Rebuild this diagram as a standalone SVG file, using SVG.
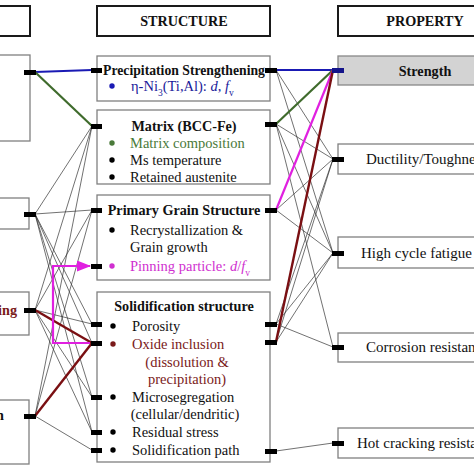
<svg xmlns="http://www.w3.org/2000/svg" width="474" height="474" viewBox="0 0 474 474">
<defs>
<style>
text{font-family:"Liberation Serif","Times New Roman",serif;font-size:14.5px;fill:#111}
.b{font-weight:bold;font-size:14.2px}
.p{font-size:15px}
.hd{fill:#fff;stroke:#1a1a1a;stroke-width:2}
.bx{fill:#fff;stroke:#808080;stroke-width:1.3}
.mk{fill:#000}
.t{stroke:#333;stroke-width:0.7;fill:none}
.blue{stroke:#1a1ab4;stroke-width:2.2;fill:none}
.green{stroke:#3f6b2c;stroke-width:2.2;fill:none}
.mag{stroke:#e020e0;stroke-width:2.2;fill:none}
.red{stroke:#7a0f12;stroke-width:2.4;fill:none}
</style>
<marker id="ah" markerWidth="14" markerHeight="11" refX="13" refY="5.5" orient="auto" markerUnits="userSpaceOnUse" viewBox="0 0 14 11">
<path d="M0,0 L14,5.5 L0,11 Z" fill="#e020e0"/>
</marker>
</defs>
<rect width="474" height="474" fill="#fff"/>

<g id="left-header"><rect class="hd" x="-10" y="6" width="40" height="30"/></g>
<g id="left-1"><rect class="bx" x="-10" y="55" width="40" height="86"/></g>
<g id="left-2"><rect class="bx" x="-10" y="198" width="39" height="31"/></g>
<g id="left-3"><rect class="bx" x="-10" y="292" width="39" height="43"/><text class="b" x="17" y="315" text-anchor="end" style="fill:#7a1a1a">ing</text></g>
<g id="left-4"><rect class="bx" x="-10" y="400" width="39" height="64"/><text class="b" x="4" y="420" text-anchor="end">n</text></g>

<g id="structure-header"><rect class="hd" x="97" y="6" width="173" height="30"/><text class="b" x="184" y="26" text-anchor="middle">STRUCTURE</text></g>
<g id="precipitation"><rect class="bx" x="97" y="56" width="173" height="45"/>
<text class="b" x="184" y="75" text-anchor="middle" style="font-size:13.7px">Precipitation Strengthening</text>
<circle cx="112" cy="86" r="2.7" fill="#1a1ab4"/>
<text x="131" y="91" style="fill:#1a1a9a">η-Ni<tspan baseline-shift="sub" style="font-size:9.5px">3</tspan>(Ti,Al): <tspan font-style="italic">d</tspan>, <tspan font-style="italic">f</tspan><tspan baseline-shift="sub" style="font-size:9.5px">v</tspan></text>
</g>
<g id="matrix"><rect class="bx" x="97" y="110" width="173" height="74"/>
<text class="b" x="184" y="131" text-anchor="middle">Matrix (BCC-Fe)</text>
<circle cx="112" cy="143" r="2.7" fill="#4a7a3a"/><text x="130" y="148" style="fill:#4a7a3a">Matrix composition</text>
<circle cx="112" cy="160" r="2.7" fill="#000"/><text x="130" y="165">Ms temperature</text>
<circle cx="112" cy="177" r="2.7" fill="#000"/><text x="130" y="182">Retained austenite</text>
</g>
<g id="primary-grain"><rect class="bx" x="97" y="195" width="173" height="85"/>
<text class="b" x="184" y="215" text-anchor="middle">Primary Grain Structure</text>
<circle cx="112" cy="230" r="2.7" fill="#000"/><text x="130" y="235">Recrystallization &amp;</text>
<text x="130" y="252">Grain growth</text>
<circle cx="112" cy="266" r="2.7" fill="#d030d0"/><text x="130" y="271" style="fill:#d030d0">Pinning particle: <tspan font-style="italic">d</tspan>/<tspan font-style="italic">f</tspan><tspan baseline-shift="sub" style="font-size:9.5px">v</tspan></text>
</g>
<g id="solidification"><rect class="bx" x="97" y="292" width="173" height="170"/>
<text class="b" x="184" y="311" text-anchor="middle">Solidification structure</text>
<circle cx="113" cy="326" r="2.7" fill="#000"/><text x="132" y="331">Porosity</text>
<circle cx="113" cy="344" r="2.7" fill="#7a1a1a"/><text x="132" y="349" style="fill:#7a1a1a">Oxide inclusion</text>
<text x="187" y="367" text-anchor="middle" style="fill:#7a1a1a">(dissolution &amp;</text>
<text x="187" y="384" text-anchor="middle" style="fill:#7a1a1a">precipitation)</text>
<circle cx="113" cy="397" r="2.7" fill="#000"/><text x="132" y="402">Microsegregation</text>
<text x="185" y="419" text-anchor="middle">(cellular/dendritic)</text>
<circle cx="113" cy="432" r="2.7" fill="#000"/><text x="132" y="437">Residual stress</text>
<circle cx="113" cy="450" r="2.7" fill="#000"/><text x="132" y="455">Solidification path</text>
</g>

<g id="property-header"><rect class="hd" x="338" y="6" width="180" height="30"/><text class="b" x="425" y="26" text-anchor="middle">PROPERTY</text></g>
<g id="strength"><rect x="338" y="56" width="180" height="29" fill="#d3d3d3" stroke="#888" stroke-width="1.3"/><text class="b" x="425" y="76" text-anchor="middle">Strength</text></g>
<g id="ductility"><rect class="bx" x="338" y="144" width="180" height="30"/><text class="p" x="366" y="164">Ductility/Toughness</text></g>
<g id="fatigue"><rect class="bx" x="338" y="237" width="180" height="31"/><text class="p" x="361" y="258">High cycle fatigue life</text></g>
<g id="corrosion"><rect class="bx" x="338" y="333" width="180" height="29"/><text class="p" x="366" y="352">Corrosion resistance</text></g>
<g id="hotcracking"><rect class="bx" x="338" y="428" width="180" height="30"/><text class="p" x="357" y="448">Hot cracking resistance</text></g>

<g id="connectors">
<line class="t" x1="35" y1="214" x2="92" y2="126"/>
<line class="t" x1="35" y1="310" x2="92" y2="126"/>
<line class="t" x1="35" y1="416" x2="92" y2="126"/>
<line class="t" x1="35" y1="214" x2="92" y2="210"/>
<line class="t" x1="35" y1="310" x2="92" y2="210"/>
<line class="t" x1="35" y1="416" x2="92" y2="210"/>
<line class="t" x1="35" y1="214" x2="92" y2="324"/>
<line class="t" x1="35" y1="214" x2="92" y2="343"/>
<line class="t" x1="35" y1="214" x2="92" y2="397"/>
<line class="t" x1="35" y1="214" x2="92" y2="432"/>
<line class="t" x1="35" y1="310" x2="92" y2="324"/>
<line class="t" x1="35" y1="310" x2="92" y2="397"/>
<line class="t" x1="35" y1="310" x2="92" y2="432"/>
<line class="t" x1="35" y1="416" x2="92" y2="450"/>
<line class="blue" x1="35" y1="72" x2="92" y2="70"/>
<line class="green" x1="35" y1="72" x2="92" y2="126"/>
<line class="red" x1="35" y1="310" x2="92" y2="343"/>
<line class="red" x1="35" y1="416" x2="92" y2="343"/>
<path class="mag" d="M90,343 H53 V266 H90" marker-end="url(#ah)"/>
<line class="t" x1="276" y1="70" x2="333" y2="159"/>
<line class="t" x1="276" y1="70" x2="333" y2="253"/>
<line class="t" x1="276" y1="124" x2="333" y2="159"/>
<line class="t" x1="276" y1="124" x2="333" y2="253"/>
<line class="t" x1="276" y1="124" x2="333" y2="347"/>
<line class="t" x1="276" y1="210" x2="333" y2="159"/>
<line class="t" x1="276" y1="210" x2="333" y2="253"/>
<line class="t" x1="276" y1="324" x2="333" y2="159"/>
<line class="t" x1="276" y1="324" x2="333" y2="253"/>
<line class="t" x1="276" y1="324" x2="333" y2="347"/>
<line class="t" x1="276" y1="342" x2="333" y2="159"/>
<line class="t" x1="276" y1="342" x2="333" y2="253"/>
<line class="t" x1="276" y1="451" x2="333" y2="443"/>
<line class="blue" x1="276" y1="70" x2="333" y2="70"/>
<line class="green" x1="276" y1="124" x2="333" y2="70"/>
<line class="mag" x1="276" y1="210" x2="333" y2="70"/>
<line class="red" x1="276" y1="342" x2="333" y2="70"/>
<rect class="mk" x="24" y="70" width="12" height="5"/>
<rect class="mk" x="24" y="212" width="12" height="5"/>
<rect class="mk" x="24" y="308" width="12" height="5"/>
<rect class="mk" x="24" y="414" width="12" height="5"/>
<rect class="mk" x="91" y="68" width="11" height="5"/>
<rect class="mk" x="91" y="124" width="11" height="5"/>
<rect class="mk" x="91" y="208" width="11" height="5"/>
<rect class="mk" x="91" y="264" width="11" height="5"/>
<rect class="mk" x="91" y="322" width="11" height="5"/>
<rect class="mk" x="91" y="341" width="11" height="5"/>
<rect class="mk" x="91" y="395" width="11" height="5"/>
<rect class="mk" x="91" y="430" width="11" height="5"/>
<rect class="mk" x="91" y="448" width="11" height="5"/>
<rect class="mk" x="265" y="68" width="12" height="5"/>
<rect class="mk" x="265" y="122" width="12" height="5"/>
<rect class="mk" x="265" y="208" width="12" height="5"/>
<rect class="mk" x="265" y="322" width="12" height="5"/>
<rect class="mk" x="265" y="340" width="12" height="5"/>
<rect class="mk" x="265" y="449" width="12" height="5"/>
<rect x="332" y="68" width="12" height="5" fill="#14148a"/>
<rect class="mk" x="332" y="157" width="12" height="5"/>
<rect class="mk" x="332" y="251" width="12" height="5"/>
<rect class="mk" x="332" y="345" width="12" height="5"/>
<rect class="mk" x="332" y="441" width="12" height="5"/>
</g>
</svg>
